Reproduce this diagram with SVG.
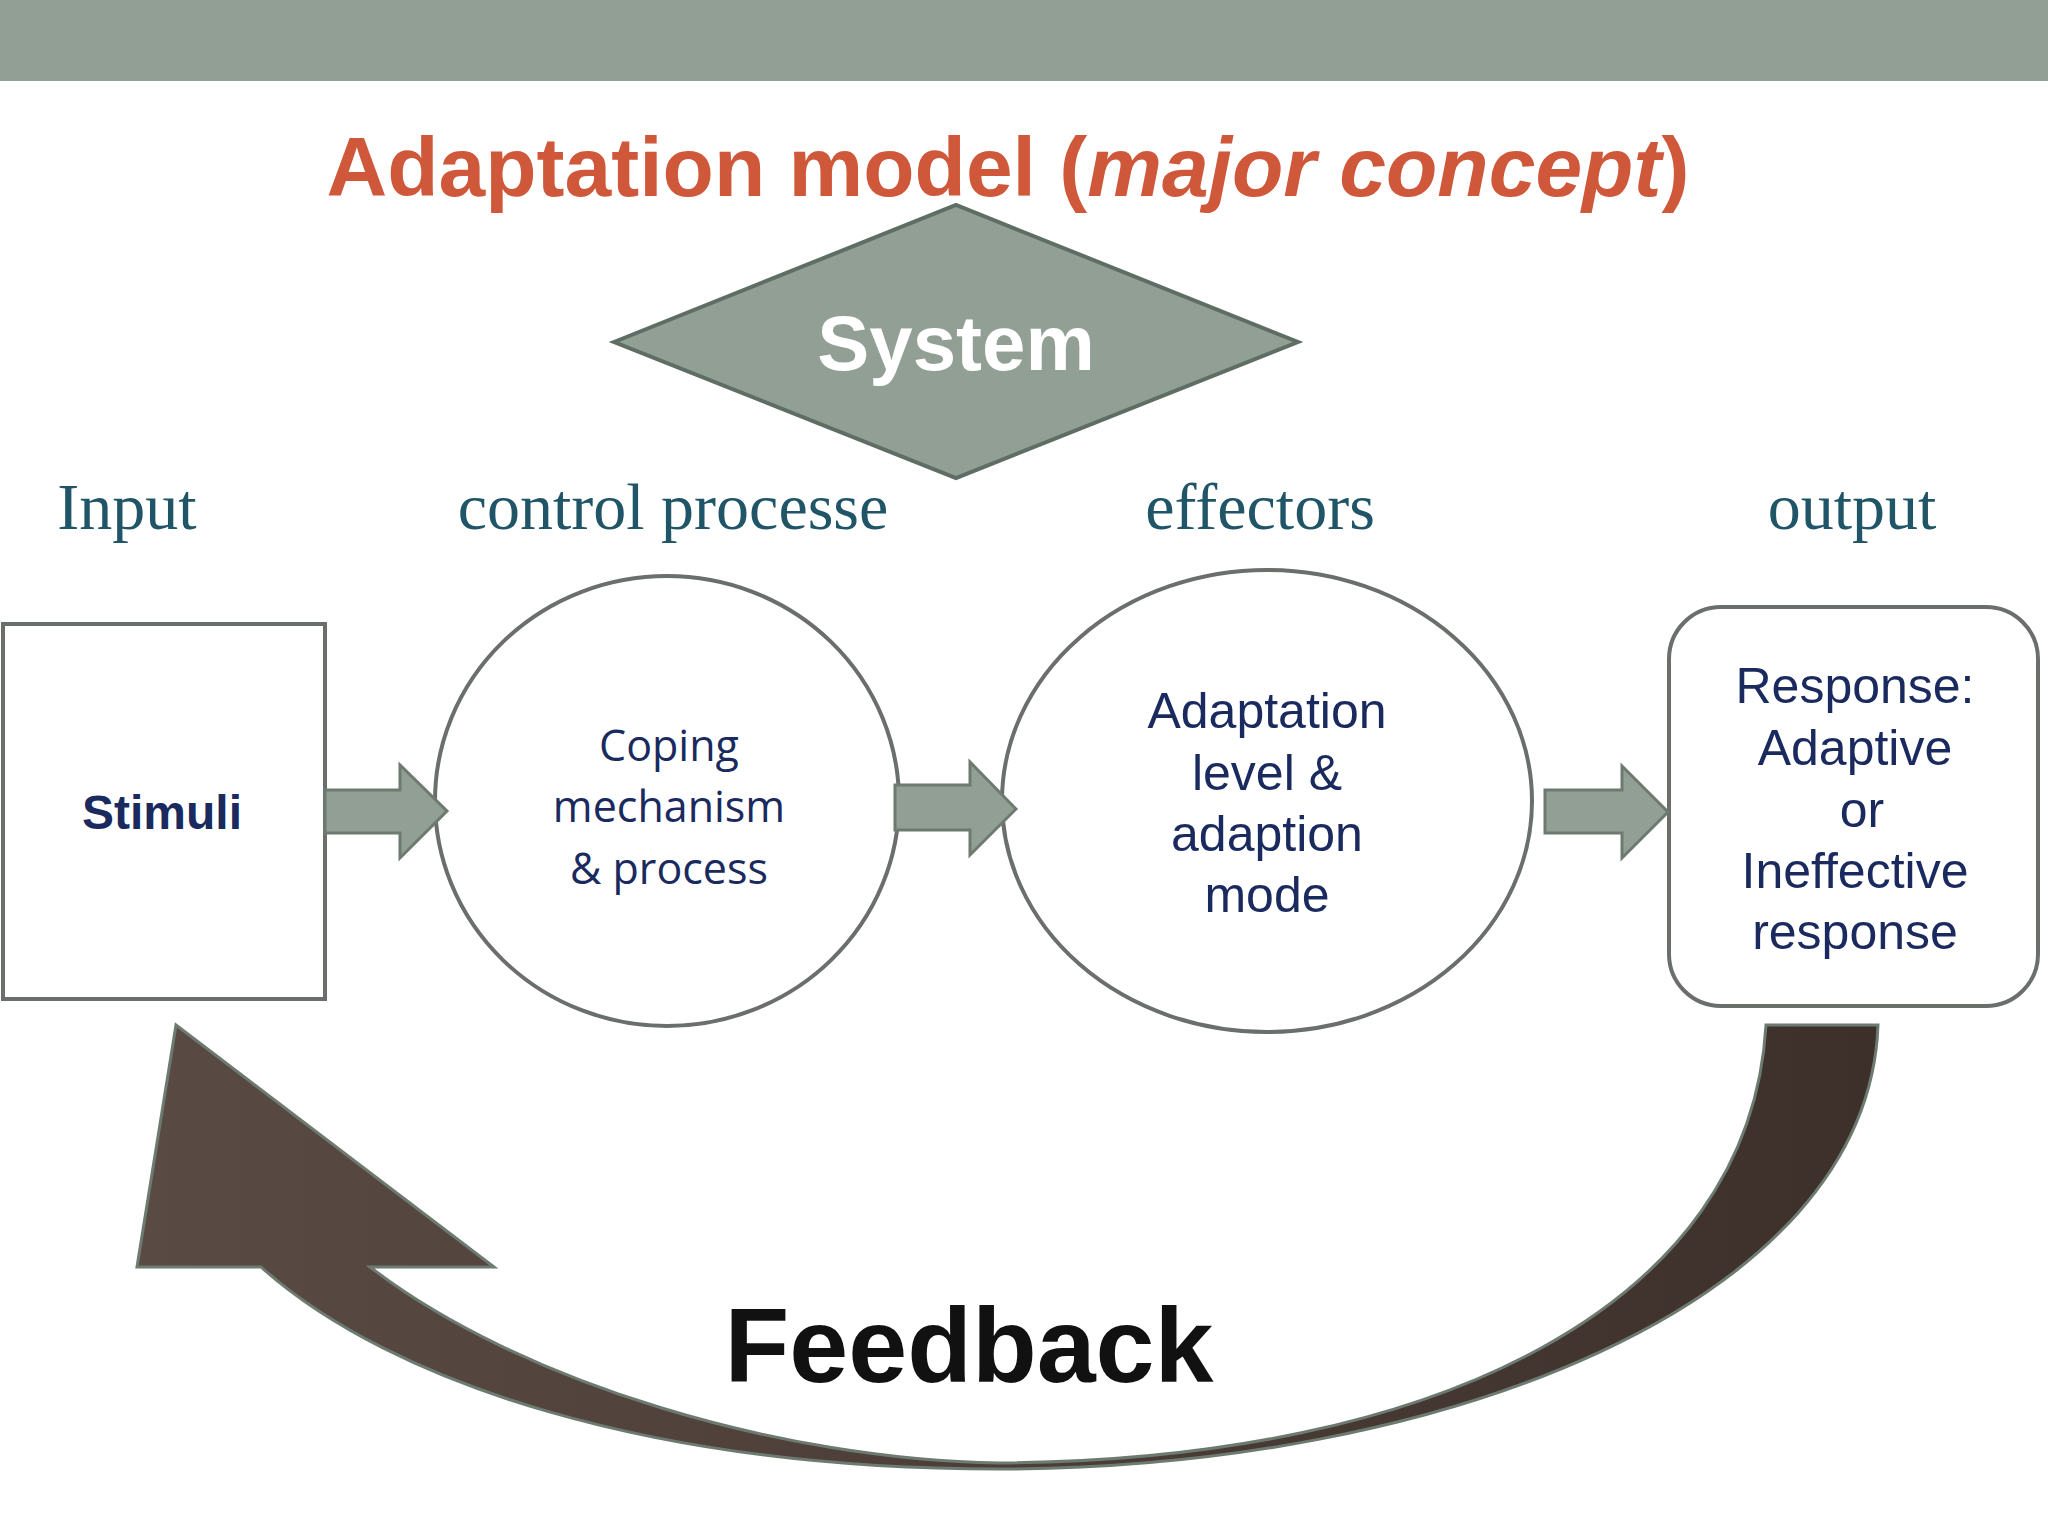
<svg xmlns="http://www.w3.org/2000/svg" width="2048" height="1536" viewBox="0 0 2048 1536">
<style>
.lbl{font-family:"Liberation Serif",serif;font-size:66px;fill:#1f5566;text-anchor:middle}
.node{fill:#fff;stroke:#6b6f6c;stroke-width:4}
.arr{fill:#919f95;stroke:#6d7a70;stroke-width:3}
.t1{font-family:"Open Sans",sans-serif;font-size:43px;fill:#1a2a5e;text-anchor:middle}
.t2{font-family:"Liberation Sans",sans-serif;font-size:50px;fill:#1a2a5e;text-anchor:middle}
</style>
<defs>
<linearGradient id="fb" x1="0" y1="0" x2="1" y2="0">
<stop offset="0" stop-color="#5a4a44"/><stop offset="1" stop-color="#3d302b"/>
</linearGradient>
</defs>
<rect width="2048" height="1536" fill="#fff"/>
<rect width="2048" height="81" fill="#919f95"/>
<text x="1008" y="196" text-anchor="middle" font-family="Liberation Sans,sans-serif" font-weight="bold" font-size="84" fill="#d0583a">Adaptation model (<tspan font-style="italic">major concept</tspan>)</text>
<g id="system">
<polygon points="614,342 956,205 1298,342 956,478" fill="#919f95" stroke="#5f6e64" stroke-width="4"/>
<text x="956" y="370" text-anchor="middle" font-family="Liberation Sans,sans-serif" font-weight="bold" font-size="78" fill="#fff">System</text>
</g>
<g id="labels">
<text class="lbl" x="127" y="529">Input</text>
<text class="lbl" x="673" y="529">control processe</text>
<text class="lbl" x="1260" y="529">effectors</text>
<text class="lbl" x="1852" y="529">output</text>
</g>
<g id="stimuli">
<rect class="node" x="3" y="624" width="322" height="375"/>
<text x="162" y="829" text-anchor="middle" font-family="Liberation Sans,sans-serif" font-weight="bold" font-size="48" fill="#1a2a5e">Stimuli</text>
</g>
<g id="coping">
<ellipse class="node" cx="667" cy="801" rx="232" ry="225"/>
<text class="t1" x="669" y="761">Coping</text>
<text class="t1" x="669" y="822">mechanism</text>
<text class="t1" x="669" y="884">&amp; process</text>
</g>
<g id="adaptation">
<ellipse class="node" cx="1267" cy="801" rx="265" ry="231"/>
<text class="t2" x="1267" y="728">Adaptation</text>
<text class="t2" x="1267" y="790">level &amp;</text>
<text class="t2" x="1267" y="851">adaption</text>
<text class="t2" x="1267" y="912">mode</text>
</g>
<g id="response">
<rect class="node" x="1669" y="607" width="369" height="399" rx="52"/>
<text class="t2" x="1855" y="703">Response:</text>
<text class="t2" x="1855" y="765">Adaptive</text>
<text class="t2" x="1862" y="827">or</text>
<text class="t2" x="1855" y="888">Ineffective</text>
<text class="t2" x="1855" y="949">response</text>
</g>
<g id="connectors">
<polygon class="arr" points="325,790 400,790 400,765 447,811 400,858 400,833 325,833"/>
<polygon class="arr" points="895,785 970,785 970,762 1016,809 970,855 970,830 895,830"/>
<polygon class="arr" points="1545,790 1622,790 1622,766 1668,812 1622,858 1622,833 1545,833"/>
<path d="M1878,1025 C1868,1306 1437,1469 999,1469 C653,1469 392,1384 261,1267 L137,1267 L176,1025 L494,1267 L370,1267 C522,1384 784,1460 999,1463 C1437,1460 1750,1306 1766,1025 Z" fill="url(#fb)" stroke="#6d7a70" stroke-width="3"/>
</g>
<text x="969" y="1382" text-anchor="middle" font-family="Liberation Sans,sans-serif" font-weight="bold" font-size="106" fill="#111" stroke="#fff" stroke-width="4" paint-order="stroke">Feedback</text>
</svg>
